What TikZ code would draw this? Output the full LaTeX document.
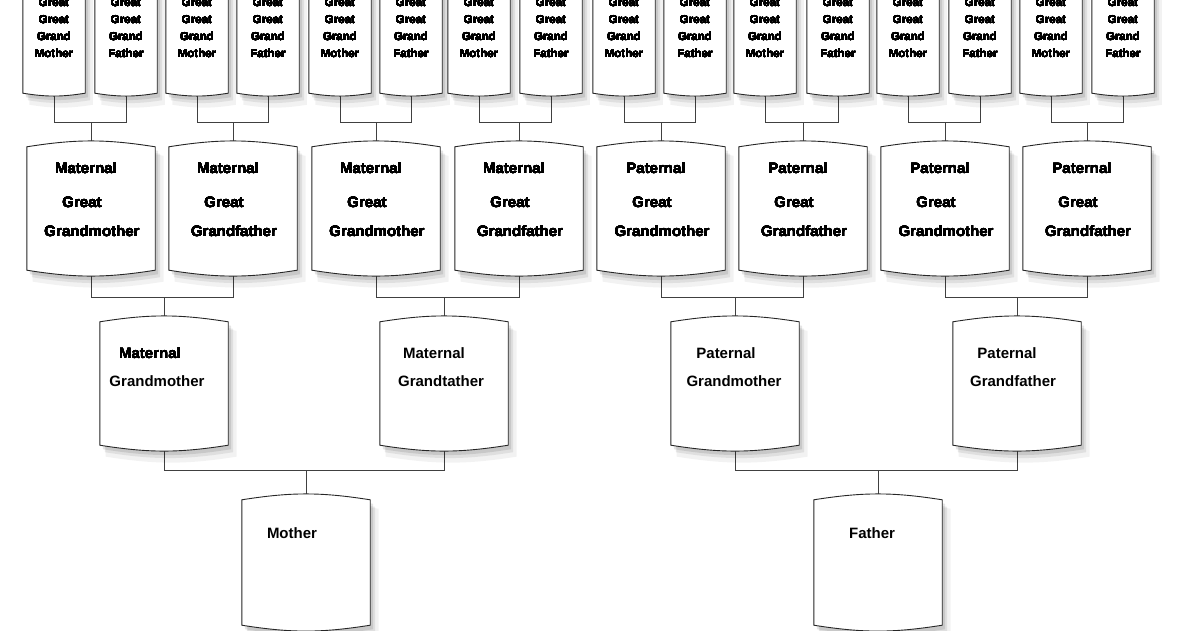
\documentclass[tikz,border=0pt]{standalone}
\usepackage{fontspec}
\setmainfont{Liberation Sans}
\usetikzlibrary{shadows,calc}
\begin{document}
\begin{tikzpicture}[x=1pt,y=-1pt,
  slot/.style={minimum width=#1, inner sep=0pt, draw=none},
  outl/.style={draw=black!85, line width=0.9pt, fill=white,
     drop shadow={shadow xshift=3pt, shadow yshift=-4pt, opacity=0.10, fill=black},
     drop shadow={shadow xshift=5pt, shadow yshift=-7pt, opacity=0.08, fill=black},
     drop shadow={shadow xshift=7pt, shadow yshift=-10pt, opacity=0.05, fill=black, shadow scale=1.02}},
  conn/.style={draw=black!75, line width=1pt},
  t1/.style={font=\fontsize{11.5}{17}\selectfont\bfseries, align=center},
  t2/.style={font=\fontsize{15}{18}\selectfont\bfseries}]
\useasboundingbox (0,0) rectangle (1200,630);
\newcommand\bowbox[1]{\path[outl] (#1.north west) to[bend left=9] (#1.north east) -- (#1.south east) to[bend left=9] (#1.south west) -- cycle;}
% row 1
\foreach \i/\x in {1/54,2/126,3/197,4/268,5/340,6/411,7/479,8/551,9/624,10/695,11/765,12/838,13/908,14/980,15/1051,16/1123}
  \node[slot=62, minimum height=133] (a\i) at (\x,26.5) {};
% row 2
\foreach \i/\x in {1/91,2/233,3/376,4/519,5/661,6/803,7/945,8/1087}
  \node[slot=128, minimum height=123] (b\i) at (\x,208.5) {};
% row 3
\foreach \i/\x in {1/164,2/444,3/735,4/1017}
  \node[slot=128, minimum height=123] (c\i) at (\x,383.5) {};
% row 4
\node[slot=128, minimum height=125] (m) at (306,562.5) {};
\node[slot=128, minimum height=125] (f) at (878,562.5) {};
% connectors
\foreach \i [evaluate=\i as \p using int(2*\i-1), evaluate=\i as \q using int(2*\i)] in {1,...,8}{
  \draw[conn] (a\p.south) -- (a\p.south |- 0,122) -| (a\q.south);
  \draw[conn] (b\i.north) -- (b\i.north |- 0,122);}
\foreach \i [evaluate=\i as \p using int(2*\i-1), evaluate=\i as \q using int(2*\i)] in {1,...,4}{
  \draw[conn] (b\p.south) -- (b\p.south |- 0,297) -| (b\q.south);
  \draw[conn] (c\i.north) -- (c\i.north |- 0,297);}
\draw[conn] (c1.south) -- (c1.south |- 0,470) -| (c2.south);
\draw[conn] (c3.south) -- (c3.south |- 0,470) -| (c4.south);
\draw[conn] (m.north) -- (m.north |- 0,470);
\draw[conn] (f.north) -- (f.north |- 0,470);
\coordinate (mend) at (306,640);
\coordinate (fend) at (878,640);
\draw[conn] (m.south) -- (mend);
\draw[conn] (f.south) -- (fend);
% boxes
\foreach \n in {a1,a2,a3,a4,a5,a6,a7,a8,a9,a10,a11,a12,a13,a14,a15,a16,b1,b2,b3,b4,b5,b6,b7,b8,c1,c2,c3,c4,m,f}
  \bowbox{\n}
% row 1 texts
\foreach \i in {1,...,16}{
  \ifodd\i
    \node[t1] (ta\i) at ($(a\i.center)+(0,1.5)$) {Great\\Great\\Grand\\Mother};
  \else
    \node[t1] (ta\i) at ($(a\i.center)+(0,1.5)$) {Great\\Great\\Grand\\Father};
  \fi}
% row 2 texts
\foreach \i/\x/\s/\g in {1/91/Maternal/Grandmother,2/233/Maternal/Grandfather,3/376/Maternal/Grandmother,4/519/Maternal/Grandfather,5/661/Paternal/Grandmother,6/803/Paternal/Grandfather,7/945/Paternal/Grandmother,8/1087/Paternal/Grandfather}{
  \node[t2] (tb\i a) at (\x-5,168) {\s};
  \node[t2] (tb\i b) at (\x-9,202) {Great};
  \node[t2] (tb\i c) at (\x+1,231) {\g};}
% row 3 texts
\node[t2] (tc1a) at (150,353) {Maternal};
\node[t2] (tc1b) at (157,381) {Grandmother};
\node[t2] (tc2a) at (434,353) {Maternal};
\node[t2] (tc2b) at (441,381) {Grandtather};
\node[t2] (tc3a) at (726,353) {Paternal};
\node[t2] (tc3b) at (734,381) {Grandmother};
\node[t2] (tc4a) at (1007,353) {Paternal};
\node[t2] (tc4b) at (1013,381) {Grandfather};
% row 4 texts
\node[t2] (tm) at (292,533) {Mother};
\node[t2] (tf) at (872,533) {Father};
\end{tikzpicture}
\end{document}
